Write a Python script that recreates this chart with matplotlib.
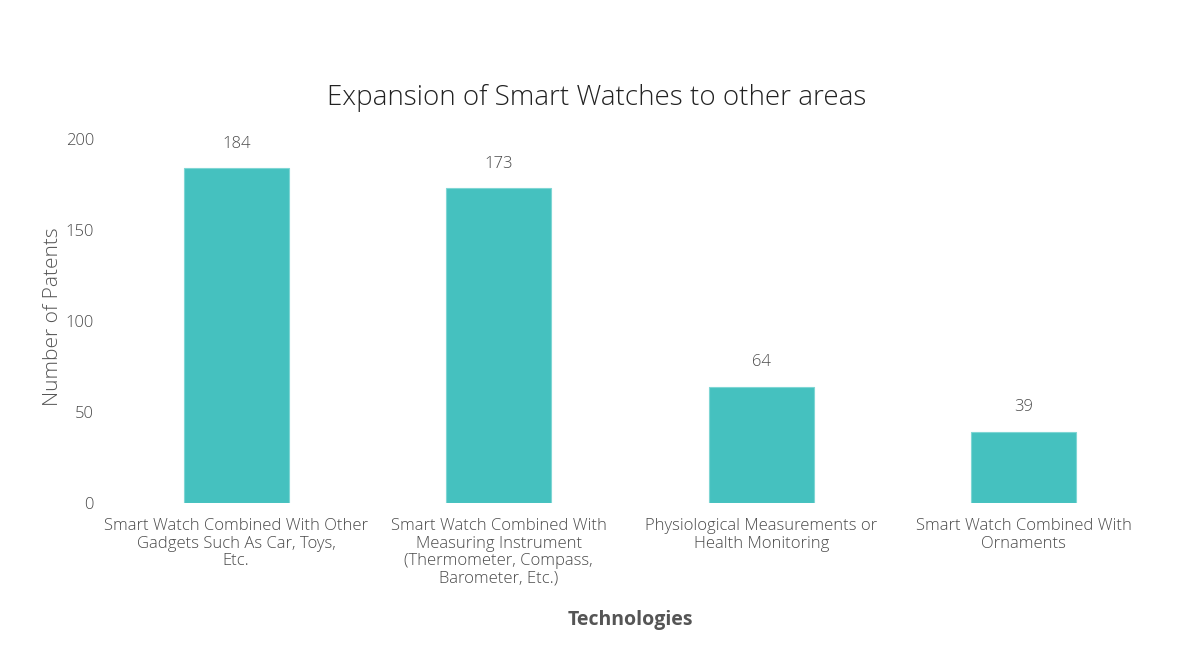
import numpy as np
import matplotlib.pyplot as plt

# data
categories = [
    "Smart Watch Combined With Other\nGadgets Such As Car, Toys,\nEtc.",
    "Smart Watch Combined With\nMeasuring Instrument\n(Thermometer, Compass,\nBarometer, Etc.)",
    "Physiological Measurements or\nHealth Monitoring",
    "Smart Watch Combined With\nOrnaments",
]
patents = [184, 173, 64, 39]
yticks = [0, 50, 100, 150, 200]

plt.rcParams['font.family'] = ['Open Sans', 'DejaVu Sans']

fig = plt.figure(figsize=(12, 6.5), dpi=100)
ax = fig.add_axes([0.0875, 0.226, 0.875, 0.574])

x = np.arange(len(categories))
ax.bar(x, patents, width=0.4, color='#45C1BF', edgecolor='#7fd6d4', linewidth=0.8)

for xi, v in zip(x, patents):
    ax.annotate(str(v), (xi, v), xytext=(0, 12), textcoords='offset points',
                ha='center', va='bottom', fontsize=12, color='#4a4a4a', fontweight='light')

ax.set_xlim(-0.5, len(categories) - 0.5)
ax.set_ylim(0, 205)
ax.set_yticks(yticks)
ax.set_yticklabels([str(t) for t in yticks])
ax.set_xticks(x)
ax.set_xticklabels(categories, fontsize=12, linespacing=1.12)

ax.tick_params(axis='both', length=0, colors='#4a4a4a', labelsize=12)
ax.tick_params(axis='x', pad=11)
ax.tick_params(axis='y', pad=8)
for lab in ax.get_xticklabels() + ax.get_yticklabels():
    lab.set_fontweight('light')
for s in ax.spines.values():
    s.set_visible(False)

ax.set_ylabel("Number of Patents", fontsize=15, color='#555555', labelpad=2, fontweight='light')
ax.set_xlabel("Technologies", fontsize=14, color='#555555', fontweight='bold', labelpad=17)

fig.text(0.4975, 0.85, "Expansion of Smart Watches to other areas", ha='center', va='center',
         fontsize=20, color='#222222', fontweight='light')

plt.savefig("out.png")
